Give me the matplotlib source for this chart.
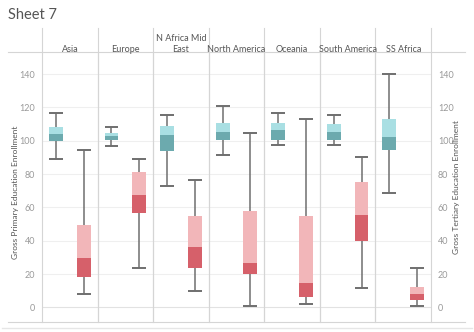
import matplotlib.pyplot as plt
from matplotlib.lines import Line2D

plt.rcParams['font.family'] = ['Lato', 'DejaVu Sans']

regions = ["Asia", "Europe", "N Africa Mid\nEast", "North America",
           "Oceania", "South America", "SS Africa"]

# primary enrollment: low whisker, q1, median, q3, high whisker
prim_low = [88.8, 96.8, 73.0, 91.2, 97.6, 97.6, 68.4]
prim_q1 = [100.0, 100.4, 93.8, 100.4, 100.6, 100.2, 94.4]
prim_med = [103.8, 102.6, 103.6, 105.0, 106.4, 105.4, 102.0]
prim_q3 = [108.4, 104.4, 109.0, 110.6, 110.4, 109.8, 113.0]
prim_high = [116.8, 108.4, 115.6, 121.0, 116.8, 115.6, 140.0]

# tertiary enrollment
tert_low = [8.0, 23.4, 9.8, 1.0, 1.8, 11.6, 0.8]
tert_q1 = [18.0, 56.4, 23.8, 20.0, 6.4, 40.0, 4.4]
tert_med = [29.8, 67.6, 36.2, 26.8, 14.8, 55.4, 8.0]
tert_q3 = [49.4, 81.0, 54.6, 57.8, 55.0, 75.4, 12.4]
tert_high = [94.4, 89.0, 76.2, 104.8, 113.2, 90.2, 23.8]

yticks = [0, 20, 40, 60, 80, 100, 120, 140]

W, H = 474, 332
fig = plt.figure(figsize=(W / 100, H / 100), dpi=100)

x0, x1 = 42, 431
ytop, ybot = 52, 322
ax = fig.add_axes([x0 / W, 1 - ybot / H, (x1 - x0) / W, (ybot - ytop) / H])
n = len(regions)
ax.set_xlim(0, n)
ax.set_ylim(-8.8, 153.2)

tick_c = '#9a9a9a'
for v in yticks:
    ax.axhline(v, color='#efefef' if v else '#e2e2e2', lw=0.8, zorder=0)
for i in range(1, n):
    ax.axvline(i, color='#dadada', lw=0.8, zorder=0)

bw = 0.25
whisk_c = '#6f6f6f'


def draw_boxes(pos, lo, q1, med, q3, hi, light, dark):
    ax.vlines(pos, lo, hi, color=whisk_c, lw=1.1, zorder=1)
    ax.hlines(lo, [p - bw / 2 for p in pos], [p + bw / 2 for p in pos], color=whisk_c, lw=1.4, zorder=1)
    ax.hlines(hi, [p - bw / 2 for p in pos], [p + bw / 2 for p in pos], color=whisk_c, lw=1.4, zorder=1)
    ax.bar(pos, [m - a for m, a in zip(med, q1)], bottom=q1, width=bw, color=dark, zorder=2)
    ax.bar(pos, [b - m for b, m in zip(q3, med)], bottom=med, width=bw, color=light, zorder=2)


draw_boxes([i + 0.25 for i in range(n)], prim_low, prim_q1, prim_med, prim_q3, prim_high,
           '#a9dfe3', '#6caaae')
draw_boxes([i + 0.75 for i in range(n)], tert_low, tert_q1, tert_med, tert_q3, tert_high,
           '#f2b6b9', '#d6606a')

ax.set_xticks([])
ax.set_yticks(yticks)
ax.tick_params(axis='y', length=0, labelsize=6.5, labelcolor=tick_c, pad=5)
for s in ax.spines.values():
    s.set_visible(False)

ax2 = ax.twinx()
ax2.set_ylim(ax.get_ylim())
ax2.set_yticks(yticks)
ax2.tick_params(axis='y', length=0, labelsize=6.5, labelcolor=tick_c, pad=5)
for s in ax2.spines.values():
    s.set_visible(False)

fig.text(16 / W, 1 - 192 / H, "Gross Primary Education Enrollment", rotation=90,
         ha='center', va='center', fontsize=6, color='#555555')
fig.text(457 / W, 1 - 187 / H, "Gross Tertiary Education Enrollment", rotation=90,
         ha='center', va='center', fontsize=6, color='#555555')

# frame lines: panel edges, header divider, bottom line
line_c = '#d5d5d5'
pw = (x1 - x0) / n
for i in range(n + 1):
    xp = (x0 + i * pw) / W
    fig.add_artist(Line2D([xp, xp], [1 - 28 / H, 1 - ybot / H], color=line_c, lw=0.8))
fig.add_artist(Line2D([8 / W, 465 / W], [1 - ytop / H, 1 - ytop / H], color=line_c, lw=0.8))
fig.add_artist(Line2D([8 / W, 465 / W], [1 - ybot / H, 1 - ybot / H], color=line_c, lw=0.8))
fig.add_artist(Line2D([2 / W, 472 / W], [1 - 328 / H, 1 - 328 / H], color='#e6e6e6', lw=1))

for i, r in enumerate(regions):
    fig.text((x0 + (i + 0.5) * pw) / W, 1 - 54 / H, r, ha='center', va='bottom',
             fontsize=6.5, color='#555555', linespacing=1.3)

fig.text(8 / W, 1 - 15 / H, "Sheet 7", ha='left', va='center', fontsize=10.5, color='#555555')

fig.savefig('out.png', dpi=100)
